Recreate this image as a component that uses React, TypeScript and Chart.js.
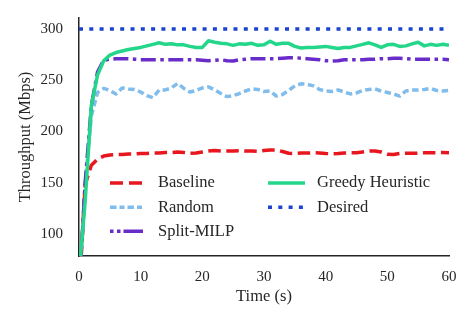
import React, { useEffect, useRef } from "react";
import { Chart, registerables } from "chart.js";

Chart.register(...registerables);

const TIME = Array.from({ length: 61 }, (_, i) => i);

const BASELINE = [
  40, 148, 167, 173, 176, 177, 177.5, 177.5, 178, 178, 178.5, 178.5, 179, 179, 179.5, 179.5, 180, 179.5, 178.7, 179,
  180, 181, 181.5, 181, 181, 181, 181.3, 181, 181, 180.7, 181.5, 182, 182, 180.5, 178.7, 178.5, 179, 179, 179.2, 179,
  178.5, 178.2, 178.5, 179, 179.3, 179.3, 180, 180.8, 181, 180, 177.8, 177.5, 178.5, 178.7, 178.7, 178.8, 179.2, 179.3, 179.3, 179.5,
  179.3,
];

const RANDOM = [
  40, 150, 215, 238, 242, 240, 236.5, 242.5, 241.5, 241, 238.5, 235, 233, 240.5, 240.5, 242.5, 247, 242, 238.5, 240,
  242.5, 243.5, 240.5, 237, 234, 235, 237, 239.5, 241.5, 241, 239, 239.5, 234.5, 236, 240, 244.5, 246.5, 246, 244.5, 241,
  239.5, 239, 240.5, 238.5, 236.6, 237.6, 240, 241, 241.5, 239.5, 238, 236.6, 234.5, 239.5, 240.5, 240.5, 241, 242, 240, 239.5,
  240,
];

const SPLIT_MILP = [
  40, 150, 225, 258, 269.5, 270.5, 271, 271, 271, 270.5, 270, 270, 270, 270, 270, 270, 270, 270, 270, 270,
  269.5, 269, 269.5, 270, 269, 268.8, 270, 270.5, 271, 271, 271, 271, 271, 271.5, 272, 272, 271.5, 271, 270.5, 270,
  269, 268.8, 269, 270, 270, 270, 270, 270.5, 270.5, 271, 271, 271.5, 271.5, 271, 270.5, 270.5, 270.5, 270.5, 270.5, 270.5,
  270,
];

const GREEDY = [
  60, 132, 225, 255, 269, 274.5, 277, 278.5, 280, 281, 282, 283.5, 285, 286.5, 285, 285.5, 284.5, 284.5, 283, 282,
  282, 288.5, 287, 286, 285.5, 284, 285.5, 285, 286, 284, 284.5, 288, 285, 286, 286, 283, 281.5, 282, 282, 282.5,
  283, 282, 281, 282, 282, 283.5, 285, 286.5, 284.5, 282, 284.5, 285, 283, 283.5, 285.5, 287, 283.5, 285, 284, 285,
  284,
];

const DESIRED = TIME.map(() => 300);

const X_TICKS = [0, 10, 20, 30, 40, 50, 60];
const Y_TICKS = [100, 150, 200, 250, 300];

const SERIES = [
  { label: "Baseline", data: BASELINE, color: "#e8161e", dash: [12.5, 5.5], legendDash: [13, 6], order: 3 },
  { label: "Random", data: RANDOM, color: "#80bdec", dash: [6.5, 3.5], legendDash: [6.5, 3, 5, 3], order: 4 },
  { label: "Split-MILP", data: SPLIT_MILP, color: "#6a2cc9", dash: [15, 4.5, 3.5, 4.5], legendDash: [3.5, 3.5, 3.5, 3, 30], order: 2 },
  { label: "Greedy Heuristic", data: GREEDY, color: "#24d68a", dash: [], legendDash: [], order: 0 },
  { label: "Desired", data: DESIRED, color: "#1a44d0", dash: [4, 6.3], legendDash: [4, 6.3], order: 1 },
];

const TEXT_COLOR = "#262626";
const SERIF = "'Liberation Serif', 'Times New Roman', serif";

const legendPlugin = {
  id: "customLegend",
  afterDraw(chart: any) {
    const { ctx, chartArea } = chart;
    const left = chartArea.left;
    const cols = [
      { sx: left + 31, ex: left + 64, tx: left + 79, items: [0, 1, 2] },
      { sx: left + 189, ex: left + 226, tx: left + 238, items: [3, 4] },
    ];
    const rowY = [183, 207.3, 231.3];
    ctx.save();
    cols.forEach((col) => {
      col.items.forEach((idx, r) => {
        const s = SERIES[idx];
        const y = rowY[r];
        ctx.beginPath();
        ctx.strokeStyle = s.color;
        ctx.lineWidth = 3.5;
        ctx.lineCap = "butt";
        ctx.setLineDash(s.legendDash);
        ctx.moveTo(col.sx, y);
        ctx.lineTo(col.ex, y);
        ctx.stroke();
        ctx.setLineDash([]);
        ctx.fillStyle = TEXT_COLOR;
        ctx.font = `16.5px ${SERIF}`;
        ctx.textBaseline = "middle";
        ctx.textAlign = "left";
        ctx.fillText(s.label, col.tx, y);
      });
    });
    ctx.restore();
  },
};

export default function App() {
  const ref = useRef<HTMLCanvasElement | null>(null);

  useEffect(() => {
    if (!ref.current) return;
    const chart = new Chart(ref.current, {
      type: "line",
      data: {
        datasets: SERIES.map((s) => ({
          label: s.label,
          data: TIME.map((t, i) => ({ x: t, y: s.data[i] })),
          borderColor: s.color,
          backgroundColor: s.color,
          borderWidth: 3.5,
          borderDash: s.dash,
          borderCapStyle: "butt",
          borderJoinStyle: "round",
          pointRadius: 0,
          tension: 0,
          fill: false,
          order: s.order,
        })),
      },
      options: {
        animation: false,
        responsive: false,
        devicePixelRatio: 1,
        layout: { padding: { left: 0, top: 18, right: 25, bottom: 0 } },
        plugins: { legend: { display: false }, tooltip: { enabled: false } },
        scales: {
          x: {
            type: "linear",
            min: 0,
            max: 60,
            afterBuildTicks: (scale: any) => {
              scale.ticks = X_TICKS.map((v) => ({ value: v }));
            },
            afterFit: (scale: any) => {
              scale.height = 71;
              scale.paddingLeft = 0;
              scale.paddingRight = 0;
            },
            grid: { display: false, drawTicks: false },
            border: { display: true, color: TEXT_COLOR, width: 1.5 },
            ticks: { color: TEXT_COLOR, font: { family: SERIF, size: 15 }, padding: 12, maxRotation: 0 },
            title: {
              display: true,
              text: "Time (s)",
              color: TEXT_COLOR,
              font: { family: SERIF, size: 16.5 },
              padding: { top: 0, bottom: 20 },
            },
          },
          y: {
            type: "linear",
            min: 78.5,
            max: 310.7,
            afterBuildTicks: (scale: any) => {
              scale.ticks = Y_TICKS.map((v) => ({ value: v }));
            },
            afterFit: (scale: any) => {
              scale.width = 79;
              scale.paddingTop = 0;
              scale.paddingBottom = 0;
            },
            grid: { display: false, drawTicks: false },
            border: { display: true, color: TEXT_COLOR, width: 1.5 },
            ticks: { color: TEXT_COLOR, font: { family: SERIF, size: 15 }, padding: 16 },
            title: {
              display: true,
              text: "Throughput (Mbps)",
              color: TEXT_COLOR,
              font: { family: SERIF, size: 16.5 },
              padding: { top: 16, bottom: 0 },
            },
          },
        },
      },
      plugins: [legendPlugin],
    });
    return () => chart.destroy();
  }, []);

  return (
    <div style={{ position: "absolute", left: 0, top: 0, width: 474, height: 327, background: "#fff" }}>
      <canvas ref={ref} width={474} height={327} style={{ width: 474, height: 327 }} />
    </div>
  );
}
